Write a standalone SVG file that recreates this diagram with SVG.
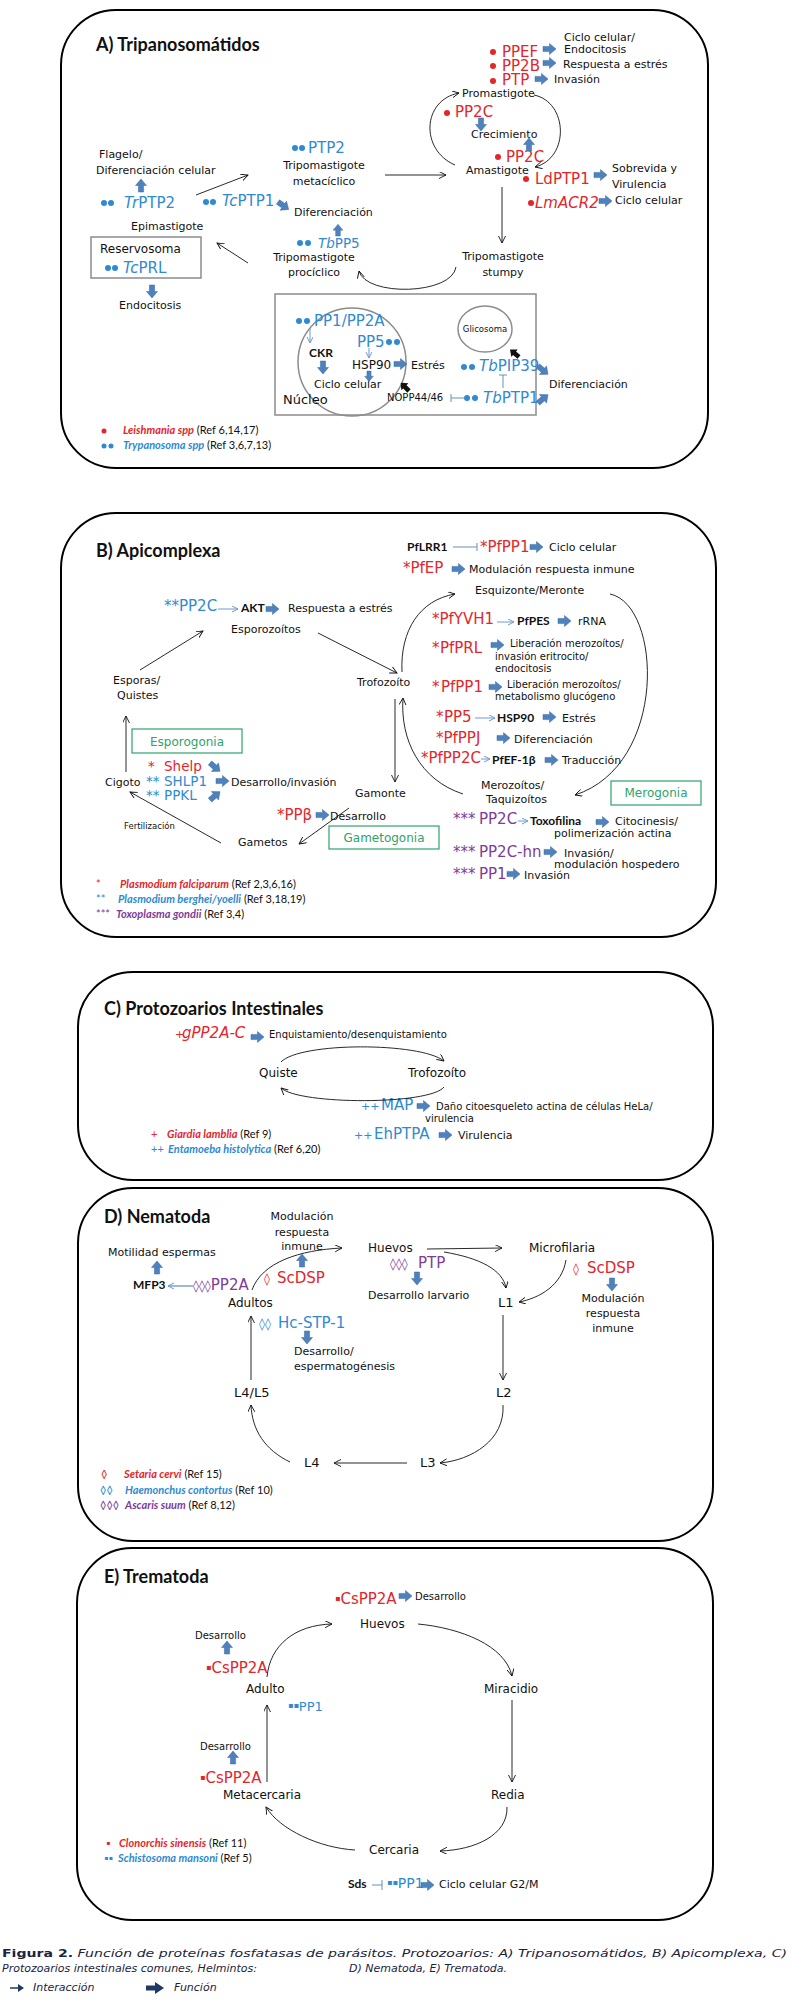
<svg xmlns="http://www.w3.org/2000/svg" width="802" height="2002" viewBox="0 0 802 2002">
<style>
text{font-family:"DejaVu Sans",sans-serif;font-size:11px;fill:#111}
.P{font-size:15px}
.Q{font-size:13.5px}
.S{font-size:10px}
.XS{font-size:8.5px}
.M{font-size:12px}
.B{font-family:Lato,"Liberation Sans",sans-serif;font-weight:700;font-size:12px}
.T{font-family:Lato,"Liberation Sans",sans-serif;font-weight:700;font-size:18px}
.lg{font-family:Lato,"Liberation Sans",sans-serif;font-size:11px}
.sp{font-weight:700;font-style:italic}
.sq{font-size:8px}
.r{fill:#e3262a}.b{fill:#2f8ad2}.v{fill:#7d3c98}.g{fill:#2ea36b}
.panel{fill:none;stroke:#000;stroke-width:2}
.gbox{fill:none;stroke:#8c8c8c;stroke-width:1.5}
.grn{fill:none;stroke:#2ea36b;stroke-width:1.2}
.ln{fill:none;stroke:#111;stroke-width:0.9;marker-end:url(#ah)}
.lb{fill:none;stroke:#6d9bd1;stroke-width:1;marker-end:url(#ahb)}
.inh{fill:none;stroke:#6d8fb5;stroke-width:1}
.fa{fill:#4f81bd;stroke:#3a6a9e;stroke-width:0.5}
.fk{fill:#111}
.cap{font-family:"DejaVu Sans",sans-serif;font-size:11px;fill:#1c2340;font-style:italic}
</style>
<defs>
<marker id="ah" markerWidth="8" markerHeight="8" refX="7" refY="3.5" orient="auto" markerUnits="userSpaceOnUse"><path d="M0,0 L7,3.5 L0,7" fill="none" stroke="#111" stroke-width="0.9"/></marker>
<marker id="ahb" markerWidth="8" markerHeight="8" refX="6" refY="3" orient="auto" markerUnits="userSpaceOnUse"><path d="M0,0 L6,3 L0,6" fill="none" stroke="#6d9bd1" stroke-width="1"/></marker>
<path id="fa" d="M0,-2.6 H6.5 V-5.5 L13,0 L6.5,5.5 V2.6 H0 Z"/>
</defs>
<rect width="802" height="2002" fill="#fff"/>

<!-- ================= PANEL A ================= -->
<g id="panelA">
<rect class="panel" x="61" y="10" width="647" height="458" rx="55"/>
<text class="T" x="96" y="51">A) Tripanosomátidos</text>
<rect class="gbox" x="91" y="237" width="110" height="41"/>
<rect class="gbox" x="275" y="294" width="261" height="121"/>
<circle cx="352" cy="362" r="54" class="gbox"/>
<ellipse cx="485" cy="329" rx="27" ry="23" class="gbox"/>
</g>
<g id="nodesA">
<g id="a-ppef"><circle cx="493" cy="52" r="3" class="r"/><text class="P r" x="502" y="57">PPEF</text></g>
<text x="564" y="41">Ciclo celular/</text><text x="564" y="53">Endocitosis</text>
<g id="a-pp2b"><circle cx="493" cy="66" r="3" class="r"/><text class="P r" x="502" y="71">PP2B</text></g>
<text x="563" y="68">Respuesta a estrés</text>
<g id="a-ptp"><circle cx="493" cy="81" r="3" class="r"/><text class="P r" x="502" y="85">PTP</text></g>
<text x="554" y="83">Invasión</text>
<text id="a-promastigote" x="462" y="97">Promastigote</text>
<g id="a-pp2c1"><circle cx="447" cy="113" r="3" class="r"/><text class="P r" x="455" y="117">PP2C</text></g>
<text id="a-crecimiento" x="471" y="138">Crecimiento</text>
<g id="a-pp2c2"><circle cx="498" cy="157" r="3" class="r"/><text class="P r" x="506" y="162">PP2C</text></g>
<text id="a-amastigote" x="466" y="174">Amastigote</text>
<g id="a-ldptp1"><circle cx="526" cy="179" r="3" class="r"/><text class="P r" x="535" y="184">LdPTP1</text></g>
<text x="612" y="172">Sobrevida y</text><text x="612" y="188">Virulencia</text>
<g id="a-lmacr2"><circle cx="531" cy="203" r="3" class="r"/><text class="P r" x="535" y="208" font-style="italic">LmACR2</text></g>
<text x="615" y="204">Ciclo celular</text>
<g id="a-ptp2"><circle cx="295" cy="148" r="3" class="b"/><circle cx="302" cy="148" r="3" class="b"/><text class="P b" x="308" y="153">PTP2</text></g>
<g id="a-metaciclico"><text x="324" y="169" text-anchor="middle">Tripomastigote</text><text x="324" y="185" text-anchor="middle">metacíclico</text></g>
<text x="99" y="158">Flagelo/</text><text x="96" y="174">Diferenciación  celular</text>
<g id="a-trptp2"><circle cx="104" cy="203" r="3" class="b"/><circle cx="111" cy="203" r="3" class="b"/><text class="P b" x="124" y="208"><tspan font-style="italic">Tr</tspan>PTP2</text></g>
<g id="a-tcptp1"><circle cx="206" cy="202" r="3" class="b"/><circle cx="213" cy="202" r="3" class="b"/><text class="P b" x="222" y="206"><tspan font-style="italic">Tc</tspan>PTP1</text></g>
<text x="294" y="216">Diferenciación</text>
<text id="a-epimastigote" x="131" y="230">Epimastigote</text>
<text x="100" y="253" class="M">Reservosoma</text>
<g id="a-tcprl"><circle cx="108" cy="268" r="3" class="b"/><circle cx="115" cy="268" r="3" class="b"/><text class="P b" x="123" y="273"><tspan font-style="italic">Tc</tspan>PRL</text></g>
<text x="119" y="309">Endocitosis</text>
<g id="a-tbpp5"><circle cx="300" cy="243" r="3" class="b"/><circle cx="308" cy="243" r="3" class="b"/><text class="Q b" x="318" y="248"><tspan font-style="italic">Tb</tspan>PP5</text></g>
<g id="a-prociclico"><text x="314" y="261" text-anchor="middle">Tripomastigote</text><text x="314" y="276" text-anchor="middle">procíclico</text></g>
<g id="a-stumpy"><text x="503" y="260" text-anchor="middle">Tripomastigote</text><text x="503" y="276" text-anchor="middle">stumpy</text></g>
<text x="485" y="332" text-anchor="middle" class="XS">Glicosoma</text>
<g id="a-pp1pp2a"><circle cx="299" cy="321" r="3" class="b"/><circle cx="307" cy="321" r="3" class="b"/><text class="P b" x="314" y="326">PP1/PP2A</text></g>
<text class="B" x="309" y="357">CKR</text>
<text x="314" y="388">Ciclo celular</text>
<g id="a-pp5"><text class="P b" x="357" y="347">PP5</text><circle cx="389" cy="342" r="3" class="b"/><circle cx="397" cy="342" r="3" class="b"/></g>
<text x="352" y="369" class="M">HSP90</text>
<text x="411" y="369">Estrés</text>
<text x="283" y="404" style="font-size:13px">Núcleo</text>
<text x="387" y="401" class="S">NOPP44/46</text>
<g id="a-tbptp1"><circle cx="467" cy="398" r="3" class="b"/><circle cx="475" cy="398" r="3" class="b"/><text class="P b" x="483" y="403"><tspan font-style="italic">Tb</tspan>PTP1</text></g>
<g id="a-tbpip39"><circle cx="464" cy="367" r="3" class="b"/><circle cx="472" cy="367" r="3" class="b"/><text class="P b" x="479" y="371"><tspan font-style="italic">Tb</tspan>PIP39</text></g>
<text x="549" y="388">Diferenciación</text>
<g id="a-legend"><circle cx="104" cy="431" r="2.5" class="r"/><text class="lg" x="123" y="434"><tspan class="sp r">Leishmania spp</tspan> (Ref 6,14,17)</text>
<circle cx="104" cy="446" r="2.5" class="b"/><circle cx="111" cy="446" r="2.5" class="b"/><text class="lg" x="123" y="449"><tspan class="sp b">Trypanosoma spp</tspan> (Ref  3,6,7,13)</text></g>
</g>

<!-- ================= PANEL B ================= -->
<g id="panelB">
<rect class="panel" x="61" y="513" width="655" height="424" rx="55"/>
<text class="T" x="96" y="557">B) Apicomplexa</text>
</g>
<g id="nodesB">
<text class="B" x="407" y="551">PfLRR1</text>
<text class="P r" x="480" y="552">*PfPP1</text>
<text x="549" y="551">Ciclo celular</text>
<text class="P r" x="403" y="573">*PfEP</text>
<text x="469" y="573">Modulación respuesta inmune</text>
<text id="b-esquizonte" x="475" y="594">Esquizonte/Meronte</text>
<text class="P b" x="164" y="611">**PP2C</text>
<text class="B" x="241" y="612">AKT</text>
<text x="288" y="612">Respuesta a estrés</text>
<text id="b-esporozoitos" x="231" y="633">Esporozoítos</text>
<text id="b-trofozoito" x="357" y="686">Trofozoíto</text>
<g id="b-esporas"><text x="113" y="684">Esporas/</text><text x="117" y="699">Quistes</text></g>
<text class="P r" x="432" y="624">*PfYVH1</text>
<text class="B" x="517" y="625">PfPES</text>
<text x="578" y="625">rRNA</text>
<text class="P r" x="432" y="653">*<tspan x="440">PfPRL</tspan></text>
<text class="S" x="510" y="647">Liberación merozoítos/</text><text class="S" x="495" y="660">invasión eritrocito/</text><text class="S" x="495" y="672">endocitosis</text>
<text class="P r" x="432" y="692">*<tspan x="441">PfPP1</tspan></text>
<text class="S" x="507" y="688">Liberación merozoítos/</text><text class="S" x="495" y="700">metabolismo glucógeno</text>
<text class="P r" x="436" y="722">*<tspan x="444">PP5</tspan></text>
<text class="B" x="497" y="722">HSP90</text>
<text x="562" y="722">Estrés</text>
<text class="P r" x="436" y="743">*PfPPJ</text>
<text x="514" y="743">Diferenciación</text>
<text class="P r" x="421" y="763">*PfPP2C</text>
<text class="B" x="492" y="764">PfEF-1β</text>
<text x="562" y="764">Traducción</text>
<g id="b-merozoitos"><text x="481" y="789">Merozoítos/</text><text x="486" y="803">Taquizoítos</text></g>
<g id="b-merogonia"><rect class="grn" x="611" y="781" width="90" height="24"/><text class="M g" x="656" y="797" text-anchor="middle">Merogonia</text></g>
<g id="b-esporogonia"><rect class="grn" x="132" y="729" width="110" height="24"/><text class="M g" x="187" y="746" text-anchor="middle">Esporogonia</text></g>
<text class="Q r" x="148" y="771">*<tspan x="164">Shelp</tspan></text>
<text id="b-cigoto" x="105" y="786">Cigoto</text>
<text class="Q b" x="146" y="786">**<tspan x="164">SHLP1</tspan></text>
<text class="Q b" x="146" y="800">**<tspan x="164">PPKL</tspan></text>
<text x="231" y="786">Desarrollo/invasión</text>
<text id="b-gamonte" x="355" y="797">Gamonte</text>
<text class="P r" x="277" y="820">*PPβ</text>
<text x="330" y="820">Desarrollo</text>
<g id="b-gametogonia"><rect class="grn" x="329" y="826" width="110" height="23"/><text class="M g" x="384" y="842" text-anchor="middle">Gametogonia</text></g>
<text id="b-gametos" x="238" y="846">Gametos</text>
<text class="XS" x="124" y="829">Fertilización</text>
<text class="P v" x="453" y="824">***<tspan x="479">PP2C</tspan></text>
<text class="B" x="530" y="825">Toxofilina</text>
<text x="615" y="825">Citocinesis/</text><text x="554" y="837">polimerización actina</text>
<text class="P v" x="453" y="857">***<tspan x="479">PP2C-hn</tspan></text>
<text x="564" y="857">Invasión/</text><text x="554" y="868">modulación hospedero</text>
<text class="P v" x="453" y="879">***<tspan x="479">PP1</tspan></text>
<text x="524" y="879">Invasión</text>
<g id="b-legend">
<text class="lg r" x="96" y="888">*</text><text class="lg" x="120" y="888"><tspan class="sp r">Plasmodium falciparum</tspan> (Ref 2,3,6,16)</text>
<text class="lg b" x="96" y="903">**</text><text class="lg" x="118" y="903"><tspan class="sp b">Plasmodium berghei/yoelli</tspan> (Ref 3,18,19)</text>
<text class="lg v" x="96" y="918">***</text><text class="lg" x="116" y="918"><tspan class="sp v">Toxoplasma gondii</tspan>  (Ref 3,4)</text>
</g>
</g>

<!-- ================= PANEL C ================= -->
<g id="panelC">
<rect class="panel" x="78" y="972" width="635" height="208" rx="55"/>
<text class="T" x="104" y="1015">C) Protozoarios Intestinales</text>
</g>
<g id="nodesC">
<text class="P r" x="175" y="1038"><tspan style="font-size:11px">+</tspan><tspan x="182" font-style="italic">gPP2A-C</tspan></text>
<text class="S" x="269" y="1038">Enquistamiento/desenquistamiento</text>
<text id="c-quiste" class="M" x="259" y="1077">Quiste</text>
<text id="c-trofozoito" class="M" x="408" y="1077">Trofozoíto</text>
<text class="P b" x="361" y="1110"><tspan style="font-size:11px">++</tspan><tspan x="381">MAP</tspan></text>
<text class="S" x="436" y="1110">Daño citoesqueleto actina de células HeLa/</text>
<text class="S" x="425" y="1122">virulencia</text>
<text class="P b" x="354" y="1139"><tspan style="font-size:11px">++</tspan><tspan x="374">EhPTPA</tspan></text>
<text x="458" y="1139">Virulencia</text>
<g id="c-legend">
<text class="lg r" x="151" y="1138">+</text><text class="lg" x="167" y="1138"><tspan class="sp r">Giardia lamblia</tspan> (Ref 9)</text>
<text class="lg b" x="151" y="1153">++</text><text class="lg" x="168" y="1153"><tspan class="sp b">Entamoeba histolytica</tspan> (Ref 6,20)</text>
</g>
</g>

<!-- ================= PANEL D ================= -->
<g id="panelD">
<rect class="panel" x="78" y="1188" width="635" height="353" rx="55"/>
<text class="T" x="104" y="1223">D) Nematoda</text>
</g>
<g id="nodesD">
<g text-anchor="middle"><text x="302" y="1220">Modulación</text><text x="302" y="1236">respuesta</text><text x="302" y="1250">inmune</text></g>
<text x="108" y="1256">Motilidad espermas</text>
<text class="B" x="133" y="1289">MFP3</text>
<text class="P v" x="193" y="1290"><tspan style="font-size:12px">◊◊◊</tspan>PP2A</text>
<text class="P r" x="264" y="1283"><tspan style="font-size:12px">◊</tspan><tspan x="277">ScDSP</tspan></text>
<text id="d-adultos" class="M" x="228" y="1307">Adultos</text>
<text id="d-huevos" class="M" x="368" y="1252">Huevos</text>
<text id="d-microfilaria" class="M" x="529" y="1252">Microfilaria</text>
<text class="P v" x="390" y="1268"><tspan style="font-size:12px">◊◊◊</tspan><tspan x="418">PTP</tspan></text>
<text x="368" y="1299">Desarrollo larvario</text>
<text id="d-l1" x="498" y="1307" style="font-size:13px">L1</text>
<text class="P r" x="573" y="1273"><tspan style="font-size:12px">◊</tspan><tspan x="587">ScDSP</tspan></text>
<g text-anchor="middle"><text x="613" y="1302">Modulación</text><text x="613" y="1317">respuesta</text><text x="613" y="1332">inmune</text></g>
<text class="P b" x="259" y="1328"><tspan style="font-size:12px">◊◊</tspan><tspan x="278">Hc-STP-1</tspan></text>
<text x="294" y="1355">Desarrollo/</text><text x="294" y="1370">espermatogénesis</text>
<text id="d-l4l5" x="234" y="1397" style="font-size:13px">L4/L5</text>
<text id="d-l2" x="496" y="1397" style="font-size:13px">L2</text>
<text id="d-l3" x="420" y="1467" style="font-size:13px">L3</text>
<text id="d-l4" x="304" y="1467" style="font-size:13px">L4</text>
<g id="d-legend">
<text class="lg r" x="101" y="1478">◊</text><text class="lg" x="124" y="1478"><tspan class="sp r">Setaria cervi</tspan> (Ref 15)</text>
<text class="lg b" x="100" y="1494">◊◊</text><text class="lg" x="125" y="1494"><tspan class="sp b">Haemonchus contortus</tspan> (Ref 10)</text>
<text class="lg v" x="100" y="1509">◊◊◊</text><text class="lg" x="125" y="1509"><tspan class="sp v">Ascaris suum</tspan> (Ref 8,12)</text>
</g>
</g>

<!-- ================= PANEL E ================= -->
<g id="panelE">
<rect class="panel" x="77" y="1548" width="636" height="372" rx="55"/>
<text class="T" x="104" y="1583">E) Trematoda</text>
</g>
<g id="nodesE">
<text class="P r" x="335" y="1604"><tspan class="sq" dy="-3">▪</tspan><tspan dy="3">CsPP2A</tspan></text>
<text class="S" x="415" y="1600">Desarrollo</text>
<text id="e-huevos" class="M" x="360" y="1628">Huevos</text>
<text class="S" x="195" y="1639">Desarrollo</text>
<text class="P r" x="206" y="1673"><tspan class="sq" dy="-3">▪</tspan><tspan dy="3">CsPP2A</tspan></text>
<text id="e-adulto" class="M" x="246" y="1693">Adulto</text>
<text class="b" x="288" y="1711" style="font-size:13px"><tspan class="sq" dy="-3">▪▪</tspan><tspan dy="3">PP1</tspan></text>
<text id="e-miracidio" class="M" x="484" y="1693">Miracidio</text>
<text class="S" x="200" y="1750">Desarrollo</text>
<text class="P r" x="200" y="1783"><tspan class="sq" dy="-3">▪</tspan><tspan dy="3">CsPP2A</tspan></text>
<text id="e-metacercaria" class="M" x="223" y="1799">Metacercaria</text>
<text id="e-redia" class="M" x="491" y="1799">Redia</text>
<text id="e-cercaria" class="M" x="369" y="1854">Cercaria</text>
<g id="e-legend">
<text class="lg r" x="106" y="1847">▪</text><text class="lg" x="119" y="1847"><tspan class="sp r">Clonorchis sinensis</tspan> (Ref 11)</text>
<text class="lg b" x="104" y="1862">▪▪</text><text class="lg" x="118" y="1862"><tspan class="sp b">Schistosoma mansoni</tspan> (Ref 5)</text>
</g>
<text class="B" x="348" y="1888">Sds</text>
<text class="b" x="387" y="1888" style="font-size:14px"><tspan class="sq" dy="-3">▪▪</tspan><tspan dy="3">PP1</tspan></text>
<text x="439" y="1888">Ciclo celular G2/M</text>
</g>

<!-- ================= CONNECTORS ================= -->
<g id="connectors">
<!-- A -->
<path class="ln" d="M534,95 C568,102 570,158 535,167"/>
<path class="ln" d="M455,165 C420,150 422,100 459,93"/>
<path class="ln" d="M385,175 H446"/>
<path class="ln" d="M502,187 V243"/>
<path class="ln" d="M456,267 C452,295 366,297 359,271"/>
<path class="ln" d="M248,263 L217,243"/>
<path class="ln" d="M196,195 L248,175"/>
<path class="lb" d="M310,328 V343"/>
<path class="lb" d="M369,348 V358"/>
<path class="inh" d="M451,394 V402 M451,398 H465"/>
<path class="inh" d="M499,375 H507 M503,375 V388" stroke="#2f8ad2"/>
<use href="#fa" class="fa" transform="translate(543,49)"/>
<use href="#fa" class="fa" transform="translate(543,63)"/>
<use href="#fa" class="fa" transform="translate(535,79)"/>
<use href="#fa" class="fa" transform="translate(481,118) rotate(90)"/>
<use href="#fa" class="fa" transform="translate(529,151) rotate(-90)"/>
<use href="#fa" class="fa" transform="translate(594,175)"/>
<use href="#fa" class="fa" transform="translate(599,201)"/>
<use href="#fa" class="fa" transform="translate(141,192) rotate(-90)"/>
<use href="#fa" class="fa" transform="translate(278,202) rotate(35)"/>
<use href="#fa" class="fa" transform="translate(338,236) rotate(-90) scale(0.9)"/>
<use href="#fa" class="fa" transform="translate(152,285) rotate(90)"/>
<use href="#fa" class="fa" transform="translate(323,361) rotate(90)"/>
<use href="#fa" class="fa" transform="translate(394,364)"/>
<use href="#fa" class="fa" transform="translate(369,371) rotate(90) scale(0.8)"/>
<use href="#fa" class="fa" transform="translate(538,366) rotate(40)"/>
<use href="#fa" class="fa" transform="translate(538,403) rotate(-40)"/>
<use href="#fa" class="fk" transform="translate(409,391) rotate(-135) scale(0.9)"/>
<use href="#fa" class="fk" transform="translate(519,357) rotate(-140) scale(0.9)"/>
<!-- B -->
<path class="inh" d="M453,547 H477 M477,543 V551"/>
<path class="lb" d="M218,609 H238"/>
<path class="lb" d="M497,622 H514"/>
<path class="lb" d="M475,718 H495"/>
<path class="lb" d="M481,759 H490"/>
<path class="lb" d="M518,821 H528"/>
<path class="ln" d="M140,670 L203,631"/>
<path class="ln" d="M318,633 L397,673"/>
<path class="ln" d="M402,672 C400,630 420,600 455,594"/>
<path class="ln" d="M610,594 C662,605 668,765 575,795"/>
<path class="ln" d="M463,794 C420,780 400,740 403,698"/>
<path class="ln" d="M395,699 V782"/>
<path class="ln" d="M349,808 L299,844"/>
<path class="ln" d="M221,843 L130,792"/>
<path class="ln" d="M126,772 V716"/>
<use href="#fa" class="fa" transform="translate(530,547)"/>
<use href="#fa" class="fa" transform="translate(452,569)"/>
<use href="#fa" class="fa" transform="translate(266,609)"/>
<use href="#fa" class="fa" transform="translate(558,621)"/>
<use href="#fa" class="fa" transform="translate(491,645)"/>
<use href="#fa" class="fa" transform="translate(489,687)"/>
<use href="#fa" class="fa" transform="translate(543,717)"/>
<use href="#fa" class="fa" transform="translate(497,738)"/>
<use href="#fa" class="fa" transform="translate(545,760)"/>
<use href="#fa" class="fa" transform="translate(210,763) rotate(40)"/>
<use href="#fa" class="fa" transform="translate(216,781)"/>
<use href="#fa" class="fa" transform="translate(210,800) rotate(-40)"/>
<use href="#fa" class="fa" transform="translate(316,815)"/>
<use href="#fa" class="fa" transform="translate(596,822)"/>
<use href="#fa" class="fa" transform="translate(544,852)"/>
<use href="#fa" class="fa" transform="translate(507,874)"/>
<!-- C -->
<path class="ln" d="M281,1062 C300,1042 420,1042 444,1061"/>
<path class="ln" d="M444,1087 C430,1105 300,1105 281,1088"/>
<use href="#fa" class="fa" transform="translate(251,1037)"/>
<use href="#fa" class="fa" transform="translate(417,1106)"/>
<use href="#fa" class="fa" transform="translate(439,1135)"/>
<!-- D -->
<path class="ln" d="M252,1290 C262,1262 300,1250 342,1248"/>
<path class="ln" d="M427,1249 L502,1248"/>
<path class="ln" d="M444,1252 C480,1258 503,1270 506,1288"/>
<path class="ln" d="M566,1260 C562,1285 540,1298 519,1302"/>
<path d="M193,1286 H168" fill="none" stroke="#8aa9c8" stroke-width="1.6" marker-end="url(#ahb)"/>
<path class="ln" d="M503,1315 V1380"/>
<path class="ln" d="M503,1405 C505,1440 472,1460 440,1463"/>
<path class="ln" d="M407,1463 H334"/>
<path class="ln" d="M290,1462 C265,1450 252,1430 251,1405"/>
<path class="ln" d="M251,1380 V1316"/>
<use href="#fa" class="fa" transform="translate(157,1274) rotate(-90)"/>
<use href="#fa" class="fa" transform="translate(302,1267) rotate(-90)"/>
<use href="#fa" class="fa" transform="translate(417,1272) rotate(90)"/>
<use href="#fa" class="fa" transform="translate(612,1278) rotate(90)"/>
<use href="#fa" class="fa" transform="translate(307,1331) rotate(90)"/>
<!-- E -->
<path class="ln" d="M267,1677 C270,1645 295,1625 332,1624"/>
<path class="ln" d="M418,1624 C460,1628 505,1645 512,1676"/>
<path class="ln" d="M512,1700 V1782"/>
<path class="ln" d="M507,1807 C508,1835 475,1850 440,1851"/>
<path class="ln" d="M355,1850 C320,1848 280,1830 266,1807"/>
<path class="ln" d="M267,1782 V1705"/>
<path class="inh" d="M372,1885 H382 M382,1880 V1890"/>
<use href="#fa" class="fa" transform="translate(399,1596)"/>
<use href="#fa" class="fa" transform="translate(227,1654) rotate(-90)"/>
<use href="#fa" class="fa" transform="translate(233,1764) rotate(-90)"/>
<use href="#fa" class="fa" transform="translate(421,1885)"/>
</g>

<!-- ================= CAPTION ================= -->
<g id="caption">
<text class="cap" x="2" y="1957" textLength="785" lengthAdjust="spacingAndGlyphs"><tspan font-weight="700" font-style="normal">Figura 2.</tspan>  Función de proteínas fosfatasas de parásitos. Protozoarios:  A) Tripanosomátidos, B) Apicomplexa, C)</text>
<text class="cap" x="2" y="1972">Protozoarios intestinales comunes, Helmintos:</text>
<text class="cap" x="349" y="1972">D) Nematoda,  E) Trematoda.</text>
<path d="M10,1988 H19" stroke="#1f3864" stroke-width="1.5"/><path d="M18,1984 L24,1988 L18,1992 Z" fill="#1f3864"/>
<text class="cap" x="33" y="1991">Interacción</text>
<path d="M146,1985.5 H155 V1982 L164,1988 L155,1994 V1990.5 H146 Z" fill="#1f3864"/>
<text class="cap" x="174" y="1991">Función</text>
</g>
</svg>
